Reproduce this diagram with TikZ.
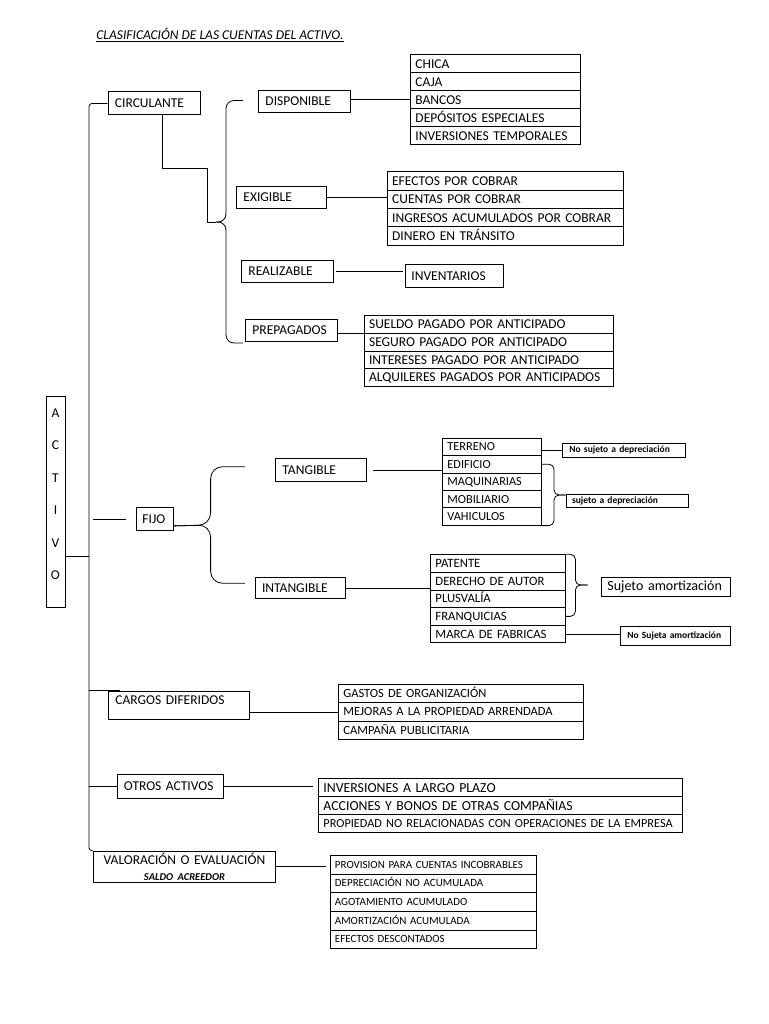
\documentclass[tikz,border=0pt]{standalone}
\usepackage{fontspec}
\setmainfont{Carlito}
\newcommand\fs[1]{\fontsize{#1}{#1}\selectfont}
\tikzset{
  box/.style={draw, line width=0.9pt, anchor=north west, inner ysep=0pt, align=left},
  lbl/.style={box, inner xsep=7pt, text width=#1, font=\fs{13.5}},
  cell/.style 2 args={box, inner xsep=5pt, text width=#1, font=\fs{#2}, text height={0.7*#2}, text depth={0.056*#2}},
}
\begin{document}
\begin{tikzpicture}[x=1pt, y=-1pt, line width=0.8pt]
  \path[fill=white] (0,0) rectangle (768,1024);
  \useasboundingbox (0,0) rectangle (768,1024);
  \node[anchor=west, inner sep=0pt, font=\fs{13.5}\itshape] (title) at (96,35) {\underline{CLASIFICACIÓN DE LAS CUENTAS DEL ACTIVO.}};
  \node[box, inner xsep=0pt, minimum width=19pt, minimum height=210.7pt, align=center, font=\fontsize{13.5}{32.5}\selectfont] (activo) at (45.5,396) {A\\C\\T\\I\\V\\O\\[-17pt]\mbox{}};
  \node[lbl=78pt, minimum height=23pt] (circ) at (107.5,91.5) {CIRCULANTE};
  \node[lbl=78pt, minimum height=22.3pt] (disp) at (258,90) {DISPONIBLE};
  \node[lbl=76pt, minimum height=22.3pt] (exig) at (236,186) {EXIGIBLE};
  \node[lbl=78pt, minimum height=21.7pt] (real) at (241,260) {REALIZABLE};
  \node[lbl=78pt, minimum height=21.7pt] (prep) at (245,319) {PREPAGADOS};
  \node[lbl=25pt, inner xsep=6pt, minimum height=22.7pt] (fijo) at (136,507.3) {FIJO};
  \node[lbl=77pt, minimum height=22.7pt] (tang) at (275,458.3) {TANGIBLE};
  \node[lbl=76.6pt, minimum height=21.6pt] (intang) at (254.6,576.7) {INTANGIBLE};
  \node[lbl=127pt, text height=13pt, text depth=15.6pt] (cargos) at (108,690.7) {CARGOS DIFERIDOS};
  \node[lbl=92.5pt, minimum height=23.7pt] (otros) at (116.5,774) {OTROS ACTIVOS};
  \node[lbl=168pt, minimum height=31pt, align=center, font=\fontsize{13.5}{15.5}\selectfont] (valor) at (93,850.7) {VALORACIÓN O EVALUACIÓN\\{\fs{10.5}\bfseries\itshape SALDO ACREEDOR}};
  \node[lbl=86pt, inner xsep=6pt, minimum height=22.7pt] (inv) at (405,264) {INVENTARIOS};
  \node[box, inner xsep=7pt, text width=108.6pt, minimum height=13.4pt, font=\fs{9.5}\bfseries] (nsd) at (562,443.3) {No sujeto a depreciación};
  \node[box, inner xsep=6pt, text width=110.4pt, minimum height=13.3pt, font=\fs{9.5}\bfseries] (sd) at (565.6,494) {sujeto a depreciación};
  \node[box, inner xsep=5.6pt, text width=117.1pt, minimum height=18.7pt, font=\fs{14}] (sa) at (601.4,577.3) {Sujeto amortización};
  \node[box, inner xsep=7.5pt, text width=95.2pt, minimum height=19pt, font=\fs{9.5}\bfseries] (nsa) at (619.5,626) {No Sujeta amortización};
  \foreach \t [count=\i] in {CHICA, CAJA, BANCOS, DEPÓSITOS ESPECIALES, INVERSIONES TEMPORALES}
    \node[cell={160pt}{13.5}, minimum height=18pt] (dis\i) at (410,{54.3+18*(\i-1)}) {\t};
  \foreach \t [count=\i] in {EFECTOS POR COBRAR, CUENTAS POR COBRAR, INGRESOS ACUMULADOS POR COBRAR, DINERO EN TRÁNSITO}
    \node[cell={226pt}{13.5}, minimum height=18.3pt] (ex\i) at (386.7,{171.5+18.3*(\i-1)}) {\t};
  \foreach \t [count=\i] in {SUELDO PAGADO POR ANTICIPADO, SEGURO PAGADO POR ANTICIPADO, INTERESES PAGADO POR ANTICIPADO, ALQUILERES PAGADOS POR ANTICIPADOS}
    \node[cell={239pt}{13.5}, minimum height=17.75pt] (pr\i) at (363.6,{315+17.75*(\i-1)}) {\t};
  \foreach \t [count=\i] in {TERRENO, EDIFICIO, MAQUINARIAS, MOBILIARIO, VAHICULOS}
    \node[cell={89pt}{12.3}, minimum height=17.4pt] (tg\i) at (442,{437.7+17.4*(\i-1)}) {\t};
  \foreach \t [count=\i] in {PATENTE, DERECHO DE AUTOR, PLUSVALÍA, FRANQUICIAS, MARCA DE FABRICAS}
    \node[cell={124.6pt}{12.7}, minimum height=17.6pt] (in\i) at (430,{554.3+17.6*(\i-1)}) {\t};
  \foreach \t [count=\i] in {GASTOS DE ORGANIZACIÓN, MEJORAS A LA PROPIEDAD ARRENDADA, CAMPAÑA PUBLICITARIA}
    \node[cell={234.6pt}{12.5}, minimum height=18.3pt] (ca\i) at (338,{684+18.3*(\i-1)}) {\t};
  \node[cell={354pt}{13.8}, minimum height=18pt] (ot1) at (318,778.3) {INVERSIONES A LARGO PLAZO};
  \node[cell={354pt}{13.8}, minimum height=18pt] (ot2) at (318,796.3) {ACCIONES Y BONOS DE OTRAS COMPAÑIAS};
  \node[cell={354pt}{12.3}, minimum height=18pt] (ot3) at (318,814.3) {PROPIEDAD NO RELACIONADAS CON OPERACIONES DE LA EMPRESA};
  \foreach \t [count=\i] in {PROVISION PARA CUENTAS INCOBRABLES, DEPRECIACIÓN NO ACUMULADA, AGOTAMIENTO ACUMULADO, AMORTIZACIÓN ACUMULADA, EFECTOS DESCONTADOS}
    \node[cell={196.2pt}{11}, minimum height=18.66pt] (va\i) at (329.5,{855+18.66*(\i-1)}) {\t};
  \coordinate (jAct) at (89,556.7);
  \coordinate (bTip) at (216,222);
  \coordinate (fTip) at ([yshift=5pt]fijo.south east);
  \coordinate (aTip) at (587.7,585);
  \draw[rounded corners=3pt] (circ.west) -| (valor.north west -| jAct) -- (valor.north west);
  \draw (activo.east |- jAct) -- (jAct);
  \draw[shorten <=4pt, shorten >=10pt] (fijo.west -| jAct) -- (fijo.west);
  \draw (cargos.north west -| jAct) -- ([xshift=12pt]cargos.north west);
  \draw (otros.west -| jAct) -- (otros.west);
  \draw ([xshift=8pt]circ.south) |- (207.5,168) |- (bTip);
  \draw[rounded corners=8pt] (bTip) -- (226,222) |- (243,100.5);
  \draw[rounded corners=8pt] (bTip) -- (226,222) |- (243,343);
  \draw[rounded corners=12pt] (fTip) -- (210.6,525) |- (245,466.7);
  \draw[rounded corners=12pt] (fTip) -- (210.6,525) |- (245,583.3);
  \draw[rounded corners=5pt] (tg2.east) -| (554,495) -- ([yshift=-1pt]sd.north west);
  \draw[rounded corners=5pt] (tg5.south east) -| (554,495) -- ([yshift=-1pt]sd.north west);
  \draw[rounded corners=5pt] (in1.north east) -| (575.4,585) -- (aTip);
  \draw[rounded corners=5pt] (in4.east) -| (575.4,585) -- (aTip);
  \draw (disp.east |- dis3.west) -- (dis3.west);
  \draw (exig.east) -- (exig.east -| ex1.west);
  \draw[shorten <=2pt, shorten >=2pt] (real.east) -- (real.east -| inv.west);
  \draw (prep.east |- pr1.south west) -- (pr1.south west);
  \draw[shorten <=6pt] (tang.east) -- (tang.east -| tg1.west);
  \draw (tg1.east |- nsd.west) -- (nsd.west);
  \draw (intang.east) -- (intang.east -| in1.west);
  \draw (in5.east) -- (in5.east -| nsa.west);
  \draw (cargos.east |- ca2.west) -- (ca2.west);
  \draw[shorten >=5pt] (otros.east) -- (otros.east -| ot1.west);
  \draw[shorten >=4pt] (valor.east) -- (valor.east -| va1.west);
\end{tikzpicture}
\end{document}
